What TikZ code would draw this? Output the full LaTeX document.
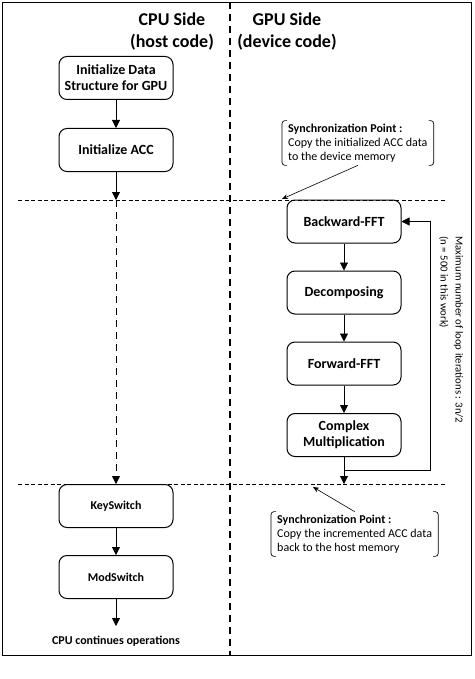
\documentclass[tikz,border=0pt]{standalone}
\usepackage{fontspec}
\setmainfont{Carlito}
\usetikzlibrary{arrows.meta}
\tikzset{stepbox/.style={draw, line width=1pt, rounded corners=8pt, minimum width=114pt, minimum height=43pt, align=center, font=\bfseries\fontsize{14}{16}\selectfont},
smallbox/.style={stepbox, font=\bfseries\fontsize{12}{14}\selectfont},
flow/.style={-{Triangle[length=8pt,width=8pt]}, line width=0.8pt},
syncline/.style={dash pattern=on 4pt off 2.5pt, line width=0.6pt},
pointer/.style={-{Stealth[length=6pt,width=5pt]}, line width=0.6pt},
syncnote/.style={align=left, anchor=west, inner xsep=6pt, inner ysep=3pt, font=\fontsize{12}{14}\selectfont}}

\begin{document}
\begin{tikzpicture}[x=1pt,y=-1pt]
\useasboundingbox (0,0) rectangle (474,679);
\draw[line width=1pt] (2.5,2.5) rectangle (471.5,655);
\draw[line width=1.4pt, dash pattern=on 7pt off 5pt] (230,2.5)--(230,655);

\node[align=center, font=\bfseries\fontsize{18}{22}\selectfont] (cpu) at (172,32) {CPU Side\\(host code)};
\node[align=center, font=\bfseries\fontsize{18}{22}\selectfont] (gpu) at (287,32) {GPU Side\\(device code)};

\coordinate (s1l) at (18,200); \coordinate (s1r) at (445,200);
\coordinate (s2l) at (18,484); \coordinate (s2r) at (445,484);
\draw[syncline] (s1l)--(s1r);
\draw[syncline] (s2l)--(s2r);

\node[stepbox] (init) at (116,78) {Initialize Data\\Structure for GPU};
\node[stepbox] (acc) at (116,150) {Initialize ACC};
\node[smallbox] (key) at (116,506) {KeySwitch};
\node[smallbox] (mod) at (116,577) {ModSwitch};
\node[font=\bfseries\fontsize{12}{14}\selectfont] (cont) at (116,641) {CPU continues operations};
\coordinate (wait) at (acc.south |- s1l);
\coordinate (done) at (116,626);

\draw[flow] (init)--(acc);
\draw[flow] (acc)--(wait);
\draw[flow, dash pattern=on 7pt off 5pt] (wait)--(key);
\draw[flow] (key)--(mod);
\draw[flow] (mod)--(done);

\node[stepbox] (bfft) at (344,221.5) {Backward-FFT};
\node[stepbox] (dec) at (344,292.5) {Decomposing};
\node[stepbox] (ffft) at (344,363.5) {Forward-FFT};
\node[stepbox] (cmul) at (344,435) {Complex\\Multiplication};
\coordinate (br) at (344,470);
\coordinate (lp) at (430,470);

\draw[flow] (bfft)--(dec);
\draw[flow] (dec)--(ffft);
\draw[flow] (ffft)--(cmul);
\draw[flow] (cmul)--(cmul.south |- s2l);
\draw[flow] (br)--(lp) |- (bfft.east);

\node[rotate=-90, align=left, font=\fontsize{10.7}{15}\selectfont] (iter) at (451,330) {Maximum number of loop iterations : 3n/2\\(n = 500 in this work)};

\node[syncnote] (sync1) at (282,143) {\textbf{Synchronization Point :}\\Copy the initialized ACC data\\to the device memory};
\node[syncnote] (sync2) at (271,534) {\textbf{Synchronization Point :}\\Copy the incremented ACC data\\back to the host memory};
\foreach \n in {sync1,sync2}{
\draw[line width=0.7pt, rounded corners=3pt] ([xshift=5pt]\n.north west)--(\n.north west)--(\n.south west)--([xshift=5pt]\n.south west);
\draw[line width=0.7pt, rounded corners=3pt] ([xshift=-5pt]\n.north east)--(\n.north east)--(\n.south east)--([xshift=-5pt]\n.south east);
}
\coordinate (p1) at (282,199);
\coordinate (p2) at (313,487);
\draw[pointer] (sync1.south)--(p1);
\draw[pointer] (sync2.north)--(p2);
\end{tikzpicture}
\end{document}
